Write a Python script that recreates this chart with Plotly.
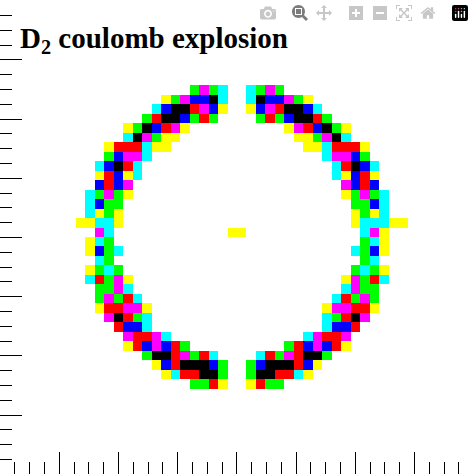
import numpy as np
import plotly.graph_objects as go

# colour level per cell: y<c<g<m<r<b<k
levels = "ycgmrbk"
nbins = 50

# (row, first column, cell codes) for each run of filled cells
runs = [
    (9, 20, "gmgc"), (9, 26, "cgmg"),
    (10, 17, "ygmbbkc"), (10, 26, "ckbbmgy"),
    (11, 16, "cbkkrmby"), (11, 26, "ybmrkkbc"),
    (12, 15, "grkkbgrg"), (12, 27, "grgbkkrg"),
    (13, 13, "ygkbrmy"), (13, 30, "ymrbkgy"),
    (14, 13, "ckmgyy"), (14, 31, "yygmkc"),
    (15, 11, "yrrrcyy"), (15, 32, "yycrrry"),
    (16, 11, "gbmmc"), (16, 34, "cmmbg"),
    (17, 10, "cbkrc"), (17, 35, "crkbc"),
    (18, 10, "yrbyc"), (18, 35, "cybry"),
    (19, 10, "brbm"), (19, 36, "mbrb"),
    (20, 9, "cgmgy"), (20, 36, "ygmgc"),
    (21, 9, "cbgg"), (21, 37, "ggbc"),
    (22, 9, "cygy"), (22, 37, "ygyc"),
    (23, 8, "yyccy"), (23, 37, "ycccyy"),
    (24, 10, "mc"), (24, 24, "yy"), (24, 38, "cmy"),
    (25, 9, "ycg"), (25, 38, "gcy"),
    (26, 9, "ybgc"), (26, 37, "cgby"),
    (27, 10, "cg"), (27, 38, "gc"),
    (28, 9, "ygcg"), (28, 37, "gcgy"),
    (29, 9, "crgmy"), (29, 36, "ymgrc"),
    (30, 10, "ggmc"), (30, 36, "cmgg"),
    (31, 10, "gmgrc"), (31, 35, "crgmg"),
    (32, 10, "yrrmmy"), (32, 34, "ymmrry"),
    (33, 11, "mkrgc"), (33, 34, "cgrkm"),
    (34, 12, "rbbc"), (34, 34, "cbbr"),
    (35, 13, "mrrmc"), (35, 32, "cmrrm"),
    (36, 13, "yrbmbrg"), (36, 30, "grbmbry"),
    (37, 15, "gkkrmgrc"), (37, 27, "crgmrkkg"),
    (38, 16, "ybrkkkbg"), (38, 26, "gbkkkrby"),
    (39, 17, "ycrrkkg"), (39, 26, "gkkrrcy"),
    (40, 20, "ggry"), (40, 26, "yrgg"),
]

z = np.full((nbins, nbins), np.nan)
for row, col, codes in runs:
    for i, ch in enumerate(codes):
        z[row, col + i] = levels.index(ch) + 1

palette = ["#ffff00", "#00ffff", "#00ff00", "#ff00ff", "#ff0000", "#0000ff", "#000000"]
scale = []
for i, c in enumerate(palette):
    scale += [[i / 7, c], [(i + 1) / 7, c]]

fig = go.Figure(go.Heatmap(
    z=z, x=np.arange(nbins) + 0.5, y=np.arange(nbins) + 0.5,
    colorscale=scale, zmin=0.5, zmax=7.5, showscale=False, hoverongaps=False,
))

major = 59.2 / 9.48
axis = dict(showgrid=False, zeroline=False, showticklabels=False, showline=True,
            linecolor="black", linewidth=1, mirror=True, ticks="inside",
            tickcolor="black", ticklen=22, dtick=major)
fig.update_xaxes(range=[0, nbins], tick0=major,
                 minor=dict(ticks="inside", ticklen=12, tick0=major, dtick=major / 4,
                            tickcolor="black", showgrid=False), **axis)
fig.update_yaxes(range=[nbins, 0], tick0=415 / 9.48,
                 minor=dict(ticks="inside", ticklen=12, tick0=415 / 9.48, dtick=major / 4,
                            tickcolor="black", showgrid=False), **axis)

fig.add_annotation(text="<b>D<sub>2</sub> coulomb explosion</b>", xref="paper", yref="paper",
                   x=0.038, y=0.915, xanchor="left", yanchor="middle", showarrow=False,
                   font=dict(family="Liberation Serif", size=29, color="black"))

fig.update_layout(width=474, height=474, margin=dict(l=0, r=0, t=0, b=0),
                  paper_bgcolor="white", plot_bgcolor="white")
fig.write_html("out.html", post_script="document.body.style.margin='0';")
